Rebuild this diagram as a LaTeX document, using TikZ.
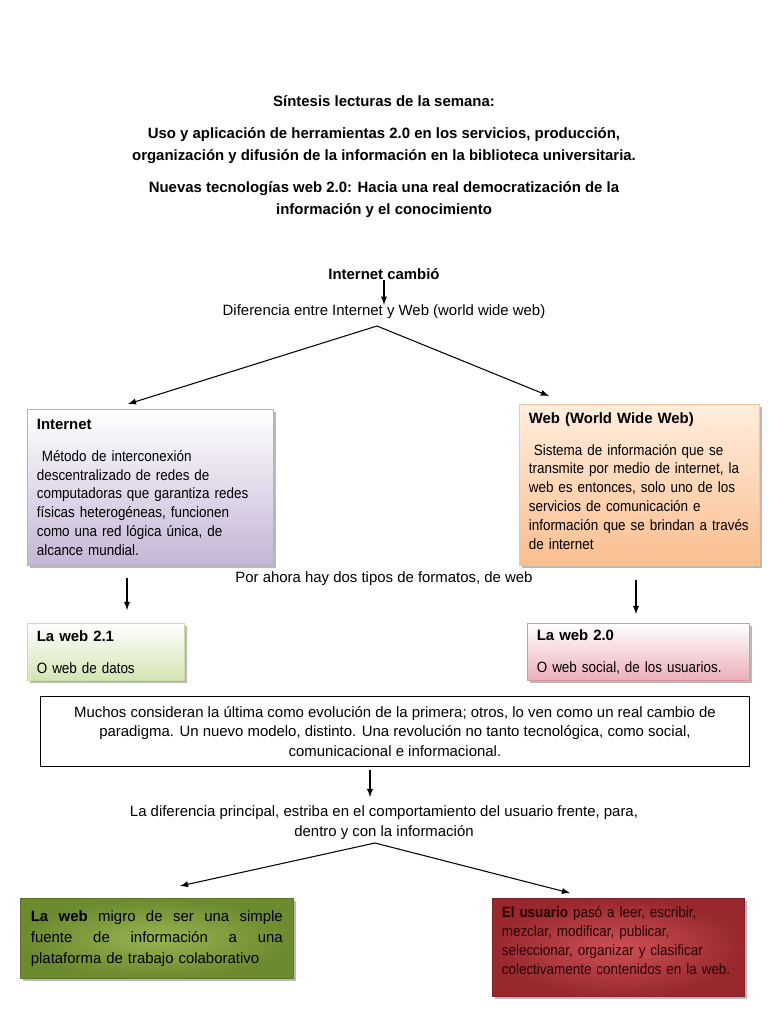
\documentclass[tikz,border=0pt]{standalone}
\usepackage{fontspec}
\setmainfont{Liberation Sans}
\newfontfamily\narrowsans[FakeStretch=0.9]{Liberation Sans}
\usetikzlibrary{shadows}

\definecolor{lilacbot}{RGB}{196,182,214}
\definecolor{lilacline}{RGB}{186,172,206}
\definecolor{peachtop}{RGB}{255,238,222}
\definecolor{peachbot}{RGB}{250,190,142}
\definecolor{peachline}{RGB}{246,196,156}
\definecolor{limebot}{RGB}{212,228,180}
\definecolor{limeline}{RGB}{200,222,160}
\definecolor{rosebot}{RGB}{236,176,184}
\definecolor{roseline}{RGB}{220,150,160}
\definecolor{olivein}{RGB}{150,180,80}
\definecolor{oliveout}{RGB}{108,138,46}
\definecolor{oliveline}{RGB}{92,118,38}
\definecolor{winein}{RGB}{204,80,86}
\definecolor{wineout}{RGB}{152,40,46}
\definecolor{wineline}{RGB}{128,34,40}

\newcommand{\boxhead}[1]{{\rmfamily\bfseries #1}}
\newcommand{\fullline}[1]{\makebox[5.04cm][s]{\spaceskip=0pt \xspaceskip=0pt #1}}

\begin{document}
\begin{tikzpicture}[x=0.02cm, y=-0.02cm,
	txt/.style={inner sep=0pt, font=\fontsize{8.5}{11.9}\selectfont},
	ttl/.style={txt, align=center, font=\bfseries\fontsize{8.5}{12.2}\selectfont},
	box/.style={draw, rectangle, anchor=north west, align=left, inner xsep=0.19cm, inner ysep=0pt,
		font=\narrowsans\fontsize{8.5}{10.7}\selectfont,
		drop shadow={shadow xshift=0.05cm, shadow yshift=-0.05cm, fill=black!50, opacity=0.55}},
	arr/.style={->, >=latex, line width=0.6pt}]

\useasboundingbox (0, 0) rectangle (768, 1024);

\begin{scope}
	%Titles
	\node[ttl] (title) at (384, 101) {Síntesis lecturas de la semana:};
	\node[ttl] (topic) at (384, 145.5) {Uso y aplicación de herramientas 2.0 en los servicios, producción,\\organización y difusión de la información en la biblioteca universitaria.};
	\node[ttl] (reading) at (384, 199.5) {Nuevas tecnologías web 2.0: Hacia una real democratización de la\\información y el conocimiento};

	%Level 1
	\node[ttl] (cambio) at (384, 274) {Internet cambió};
	\node[txt] (diff) at (384, 312) {Diferencia entre Internet y Web (world wide web)};
	\coordinate (fork1) at (377, 326);
	\coordinate (inettip) at (128, 404);
	\coordinate (webtip) at (549, 396);
\end{scope}

\begin{scope}
	%Level 2
	\node[box, lilacline, text=black, top color=white, bottom color=lilacbot,
		minimum width=4.92cm, minimum height=3.12cm, text width=4.54cm] (inet) at (27, 409)
		{\boxhead{Internet}\\[7.4pt]
		\ Método de interconexión\\
		descentralizado de redes de\\
		computadoras que garantiza redes\\
		físicas heterogéneas, funcionen\\
		como una red lógica única, de\\
		alcance mundial.};
	\node[box, peachline, text=black, top color=peachtop, bottom color=peachbot,
		minimum width=4.8cm, minimum height=3.22cm, text width=4.42cm] (www) at (519, 404)
		{\boxhead{Web (World Wide Web)}\\[7.4pt]
		\ Sistema de información que se\\
		transmite por medio de internet, la\\
		web es entonces, solo uno de los\\
		servicios de comunicación e\\
		información que se brindan a través\\
		de internet\\[-6.2pt]\mbox{}};

	\node[txt] (formats) at (384, 579) {Por ahora hay dos tipos de formatos, de web};
	\coordinate (inetout) at (127, 578);
	\coordinate (w21tip) at (127, 610);
	\coordinate (wwwout) at (636, 580);
	\coordinate (w20tip) at (636, 614);

	%Level 3
	\node[box, limeline, text=black, top color=white, bottom color=limebot,
		minimum width=3.14cm, minimum height=1.14cm, text width=2.76cm] (w21) at (27, 623)
		{\boxhead{La web 2.1}\\[7.4pt]O web de datos};
	\node[box, roseline, text=black, top color=white, bottom color=rosebot,
		minimum width=4.44cm, minimum height=1.14cm, text width=4.06cm] (w20) at (527, 623)
		{\boxhead{La web 2.0}\\[7.4pt]O web social, de los usuarios.};
\end{scope}

\begin{scope}
	%Level 4
	\node[draw, rectangle, anchor=north west, align=center, inner sep=0pt, line width=0.6pt,
		minimum width=14.18cm, minimum height=1.4cm, font=\fontsize{8.5}{11.3}\selectfont] (views) at (40, 696)
		{Muchos consideran la última como evolución de la primera; otros, lo ven como un real cambio de\\
		paradigma. Un nuevo modelo, distinto. Una revolución no tanto tecnológica, como social,\\
		comunicacional e informacional.};
	\coordinate (viewsout) at (370, 770);
	\coordinate (maintip) at (370, 797);
	\node[txt, align=center, font=\fontsize{8.5}{11.3}\selectfont] (main) at (384, 823)
		{La diferencia principal, estriba en el comportamiento del usuario frente, para,\\dentro y con la información};
	\coordinate (fork2) at (375, 843);
	\coordinate (webtip2) at (180, 886);
	\coordinate (usertip) at (570, 893);

	%Level 5
	\node[box, oliveline, text=black, inner color=olivein, outer color=oliveout,
		minimum width=5.46cm, minimum height=1.6cm, text width=5.04cm,
		font=\fontsize{8.5}{11.9}\selectfont] (migra) at (20, 898)
		{\fullline{\textbf{La web} migro de ser una simple}\\
		\fullline{fuente de información a una}\\
		plataforma de trabajo colaborativo};
	\node[box, wineline, text=black!85!red, inner color=winein, outer color=wineout,
		minimum width=5.02cm, minimum height=1.96cm, text width=4.66cm] (user) at (492, 898)
		{\textbf{El usuario} pasó a leer, escribir,\\
		mezclar, modificar, publicar,\\
		seleccionar, organizar y clasificar\\
		colectivamente contenidos en la web.\\[-2.7pt]\mbox{}};
\end{scope}

\begin{scope}[style={arr}]
	%Arrows
	\path [->] (cambio.south) edge node {} (diff.north);
	\path [->] (fork1) edge node {} (inettip);
	\path [->] (fork1) edge node {} (webtip);

	\path [->] (inetout) edge node {} (w21tip);
	\path [->] (wwwout) edge node {} (w20tip);

	\path [->] (viewsout) edge node {} (maintip);
	\path [->] (fork2) edge node {} (webtip2);
	\path [->] (fork2) edge node {} (usertip);
\end{scope}

\end{tikzpicture}
\end{document}
